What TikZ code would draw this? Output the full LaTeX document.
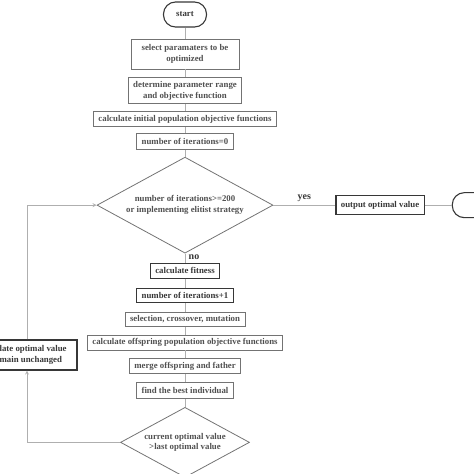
\documentclass[tikz,border=0pt]{standalone}
\usepackage{fontspec}
\setmainfont{Liberation Serif}
\usetikzlibrary{shapes.geometric,positioning,arrows}

\definecolor{linegray}{RGB}{175,175,175}
\definecolor{boxgray}{RGB}{115,115,115}
\definecolor{boxdark}{RGB}{55,55,55}
\definecolor{textgray}{RGB}{80,80,80}

\begin{document}
\begin{tikzpicture}[x=1pt,y=1pt,>=stealth,node distance=8pt,font=\fontsize{8.8}{10.6}\selectfont\bfseries]
\tikzstyle{box}=[draw=boxgray,line width=0.8pt,text=textgray,inner xsep=5pt,inner ysep=0pt,minimum height=15pt,align=center]
\tikzstyle{darkbox}=[box,draw=boxdark,line width=1.1pt,text=boxdark]
\tikzstyle{term}=[darkbox,rounded corners=12pt,minimum width=43pt,minimum height=25pt]
\tikzstyle{decision}=[diamond,aspect=1.84,draw=boxgray,line width=0.8pt,text=textgray,inner sep=0pt,align=center]
\tikzstyle{flow}=[draw=linegray,line width=0.8pt]
\tikzstyle{lab}=[text=boxdark,font=\fontsize{10}{12}\selectfont\bfseries]

\useasboundingbox (0,0) rectangle (474,-474);
\clip (0,0) rectangle (474,-474);

% main column
\node[term] (start) at (185,-14.5) {start};
\node[box,minimum width=108pt,minimum height=30pt] (sel) [below=11pt of start] {select paramaters to be\\optimized};
\node[box,minimum height=26pt] (range) [below=of sel] {determine parameter range\\and objective function};
\node[box] (init) [below=7pt of range] {calculate initial population objective functions};
\node[box,minimum height=16pt] (zero) [below=6pt of init] {number of iterations=0};
\node[decision,minimum width=176pt,minimum height=96pt] (stop) [below=7pt of zero] {number of iterations>=200\\or implementing elitist strategy};
\node[darkbox] (fit) [below=9pt of stop] {calculate fitness};
\node[darkbox,minimum height=14pt] (inc) [below=9pt of fit] {number of iterations+1};
\node[box,minimum height=14pt] (gen) [below=9pt of inc] {selection, crossover, mutation};
\node[box] (off) [below=of gen] {calculate offspring population objective functions};
\node[box] (merge) [below=of off] {merge offspring and father};
\node[box,minimum height=16pt] (best) [below=of merge] {find the best individual};
\node[decision,minimum width=129pt,minimum height=70pt] (cmp) [below=of best] {current optimal value\\>last optimal value};

% right branch
\node[darkbox,minimum height=19pt] (out) [right=62pt of stop] {output optimal value};
\node[term] (end) [right=27pt of out] {};

% left branch
\node[darkbox,minimum width=100pt,minimum height=30pt] (upd) at (27,-355) {update optimal value\\remain unchanged};
\coordinate (lowleft) at (upd.south |- cmp.west);
\coordinate (upleft) at (upd.north |- stop.west);

\path[flow]
(start) edge (sel)
(sel) edge (range)
(range) edge (init)
(init) edge (zero)
(zero) edge (stop)
(stop) edge node[lab,above]{yes} (out)
(out) edge (end)
(stop) edge node[lab,right,pos=0.45]{no} (fit)
(fit) edge (inc)
(inc) edge (gen)
(gen) edge (off)
(off) edge (merge)
(merge) edge (best)
(best) edge (cmp);
\draw[flow,->] (cmp.west) -- (lowleft) -- (upd.south);
\draw[flow,->] (upd.north) -- (upleft) -- (stop.west);
\end{tikzpicture}
\end{document}
